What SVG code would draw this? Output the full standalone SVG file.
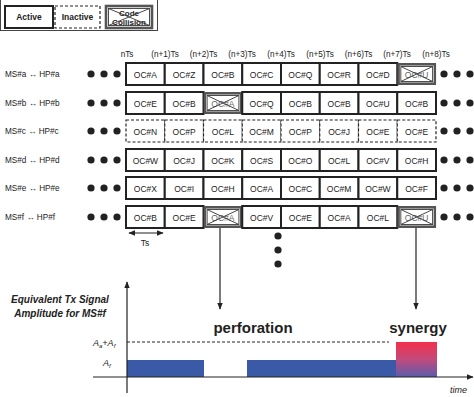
<svg xmlns="http://www.w3.org/2000/svg" width="474" height="397" viewBox="0 0 474 397">
<defs>
<style>
text{font-family:"Liberation Sans",Arial,sans-serif;fill:#222}
.cell{fill:#fff;stroke:#222;stroke-width:2}
.dash{fill:#fff;stroke:#222;stroke-width:1.2;stroke-dasharray:3,2}
.ct{font-size:8.5px;text-anchor:middle}
.cx{font-size:8.5px;text-anchor:middle;fill:#666}
.lbl{font-size:8.2px}
.tl{font-size:8.2px;text-anchor:middle}
.dot{fill:#222}
.colo{fill:#fff;stroke:#555;stroke-width:2.6}
.coli{fill:none;stroke:#222;stroke-width:0.8}
.xl{stroke:#333;stroke-width:0.9}
.ln{stroke:#222;stroke-width:1.2;fill:none}
.bar{fill:#3a5aa8}
</style>
<marker id="ah" viewBox="0 0 10 10" refX="9" refY="5" markerWidth="7" markerHeight="7" orient="auto-start-reverse" markerUnits="userSpaceOnUse">
<path d="M0,1 L10,5 L0,9 z" fill="#222"/>
</marker>
<linearGradient id="syn" x1="0" y1="0" x2="0" y2="1">
<stop offset="0" stop-color="#f3304b"/>
<stop offset="0.5" stop-color="#c24a7c"/>
<stop offset="1" stop-color="#5a5cae"/>
</linearGradient>
<symbol id="coll" viewBox="0 0 39 22" width="39" height="22">
<rect class="colo" x="1.3" y="1.3" width="36.4" height="19.4"/>
<rect class="coli" x="3.6" y="3.6" width="31.8" height="14.8"/>
</symbol>
</defs>

<g id="legend">
<rect x="0.5" y="-1" width="157" height="31.5" fill="#fff" stroke="#444" stroke-width="1"/>
<rect x="5" y="6" width="48" height="22" class="cell"/>
<text x="29" y="20" font-size="8.5" font-weight="bold" text-anchor="middle">Active</text>
<rect x="55" y="6" width="45" height="22" class="dash"/>
<text x="77.5" y="20" font-size="8.5" font-weight="bold" text-anchor="middle">Inactive</text>
<rect x="106" y="6" width="46" height="22" class="colo"/>
<rect x="108.5" y="8.5" width="41" height="17" class="coli"/>
<text x="129" y="15.5" font-size="8" font-weight="bold" text-anchor="middle">Code</text>
<text x="129" y="24.5" font-size="8" font-weight="bold" text-anchor="middle">Collision</text>
<line class="xl" x1="108.5" y1="8.5" x2="149.5" y2="25.5"/>
<line class="xl" x1="149.5" y1="8.5" x2="108.5" y2="25.5"/>
</g>

<g id="time-labels">
<text class="tl" x="127" y="57">nTs</text>
<text class="tl" x="165" y="57">(n+1)Ts</text>
<text class="tl" x="203.5" y="57">(n+2)Ts</text>
<text class="tl" x="242" y="57">(n+3)Ts</text>
<text class="tl" x="281" y="57">(n+4)Ts</text>
<text class="tl" x="320" y="57">(n+5)Ts</text>
<text class="tl" x="358.5" y="57">(n+6)Ts</text>
<text class="tl" x="397" y="57">(n+7)Ts</text>
<text class="tl" x="436" y="57">(n+8)Ts</text>
</g>

<g id="row-a">
<text class="lbl" x="5" y="77">MS#a ↔ HP#a</text>
<circle class="dot" cx="91" cy="74" r="3.6"/><circle class="dot" cx="104" cy="74" r="3.6"/><circle class="dot" cx="117" cy="74" r="3.6"/>
<rect class="cell" x="126" y="63" width="38.75" height="22"/><text class="ct" x="145.4" y="77.5">OC#A</text>
<rect class="cell" x="164.75" y="63" width="38.75" height="22"/><text class="ct" x="184.1" y="77.5">OC#Z</text>
<rect class="cell" x="203.5" y="63" width="38.75" height="22"/><text class="ct" x="222.9" y="77.5">OC#B</text>
<rect class="cell" x="242.25" y="63" width="38.75" height="22"/><text class="ct" x="261.6" y="77.5">OC#C</text>
<rect class="cell" x="281" y="63" width="38.75" height="22"/><text class="ct" x="300.4" y="77.5">OC#Q</text>
<rect class="cell" x="319.75" y="63" width="38.75" height="22"/><text class="ct" x="339.1" y="77.5">OC#R</text>
<rect class="cell" x="358.5" y="63" width="38.75" height="22"/><text class="ct" x="377.9" y="77.5">OC#D</text>
<g id="a8"><use href="#coll" x="397.25" y="63"/><text class="cx" x="416.6" y="77.5">OC#U</text><line class="xl" x1="401" y1="66.6" x2="432.5" y2="81.4"/><line class="xl" x1="432.5" y1="66.6" x2="401" y2="81.4"/></g>
<circle class="dot" cx="444" cy="74" r="3.6"/><circle class="dot" cx="457" cy="74" r="3.6"/><circle class="dot" cx="470" cy="74" r="3.6"/>
</g>

<g id="row-b">
<text class="lbl" x="5" y="106">MS#b ↔ HP#b</text>
<circle class="dot" cx="91" cy="103" r="3.6"/><circle class="dot" cx="104" cy="103" r="3.6"/><circle class="dot" cx="117" cy="103" r="3.6"/>
<rect class="cell" x="126" y="92" width="38.75" height="22"/><text class="ct" x="145.4" y="106.5">OC#E</text>
<rect class="cell" x="164.75" y="92" width="38.75" height="22"/><text class="ct" x="184.1" y="106.5">OC#B</text>
<g id="b3"><use href="#coll" x="203.5" y="92"/><text class="cx" x="222.9" y="106.5">OC#A</text><line class="xl" x1="207.2" y1="95.6" x2="238.7" y2="110.4"/><line class="xl" x1="238.7" y1="95.6" x2="207.2" y2="110.4"/></g>
<rect class="cell" x="242.25" y="92" width="38.75" height="22"/><text class="ct" x="261.6" y="106.5">OC#Q</text>
<rect class="cell" x="281" y="92" width="38.75" height="22"/><text class="ct" x="300.4" y="106.5">OC#B</text>
<rect class="cell" x="319.75" y="92" width="38.75" height="22"/><text class="ct" x="339.1" y="106.5">OC#B</text>
<rect class="cell" x="358.5" y="92" width="38.75" height="22"/><text class="ct" x="377.9" y="106.5">OC#U</text>
<rect class="cell" x="397.25" y="92" width="38.75" height="22"/><text class="ct" x="416.6" y="106.5">OC#B</text>
<circle class="dot" cx="444" cy="103" r="3.6"/><circle class="dot" cx="457" cy="103" r="3.6"/><circle class="dot" cx="470" cy="103" r="3.6"/>
</g>

<g id="row-c">
<text class="lbl" x="5" y="134">MS#c ↔ HP#c</text>
<circle class="dot" cx="91" cy="131" r="3.6"/><circle class="dot" cx="104" cy="131" r="3.6"/><circle class="dot" cx="117" cy="131" r="3.6"/>
<rect class="dash" x="126" y="120" width="38.75" height="22"/><text class="ct" x="145.4" y="134.5">OC#N</text>
<rect class="dash" x="164.75" y="120" width="38.75" height="22"/><text class="ct" x="184.1" y="134.5">OC#P</text>
<rect class="dash" x="203.5" y="120" width="38.75" height="22"/><text class="ct" x="222.9" y="134.5">OC#L</text>
<rect class="dash" x="242.25" y="120" width="38.75" height="22"/><text class="ct" x="261.6" y="134.5">OC#M</text>
<rect class="dash" x="281" y="120" width="38.75" height="22"/><text class="ct" x="300.4" y="134.5">OC#P</text>
<rect class="dash" x="319.75" y="120" width="38.75" height="22"/><text class="ct" x="339.1" y="134.5">OC#J</text>
<rect class="dash" x="358.5" y="120" width="38.75" height="22"/><text class="ct" x="377.9" y="134.5">OC#E</text>
<rect class="dash" x="397.25" y="120" width="38.75" height="22"/><text class="ct" x="416.6" y="134.5">OC#E</text>
<circle class="dot" cx="444" cy="131" r="3.6"/><circle class="dot" cx="457" cy="131" r="3.6"/><circle class="dot" cx="470" cy="131" r="3.6"/>
</g>

<g id="row-d">
<text class="lbl" x="5" y="163">MS#d ↔ HP#d</text>
<circle class="dot" cx="91" cy="160" r="3.6"/><circle class="dot" cx="104" cy="160" r="3.6"/><circle class="dot" cx="117" cy="160" r="3.6"/>
<rect class="cell" x="126" y="149" width="38.75" height="22"/><text class="ct" x="145.4" y="163.5">OC#W</text>
<rect class="cell" x="164.75" y="149" width="38.75" height="22"/><text class="ct" x="184.1" y="163.5">OC#J</text>
<rect class="cell" x="203.5" y="149" width="38.75" height="22"/><text class="ct" x="222.9" y="163.5">OC#K</text>
<rect class="cell" x="242.25" y="149" width="38.75" height="22"/><text class="ct" x="261.6" y="163.5">OC#S</text>
<rect class="cell" x="281" y="149" width="38.75" height="22"/><text class="ct" x="300.4" y="163.5">OC#O</text>
<rect class="cell" x="319.75" y="149" width="38.75" height="22"/><text class="ct" x="339.1" y="163.5">OC#L</text>
<rect class="cell" x="358.5" y="149" width="38.75" height="22"/><text class="ct" x="377.9" y="163.5">OC#V</text>
<rect class="cell" x="397.25" y="149" width="38.75" height="22"/><text class="ct" x="416.6" y="163.5">OC#H</text>
<circle class="dot" cx="444" cy="160" r="3.6"/><circle class="dot" cx="457" cy="160" r="3.6"/><circle class="dot" cx="470" cy="160" r="3.6"/>
</g>

<g id="row-e">
<text class="lbl" x="5" y="191">MS#e ↔ HP#e</text>
<circle class="dot" cx="91" cy="188" r="3.6"/><circle class="dot" cx="104" cy="188" r="3.6"/><circle class="dot" cx="117" cy="188" r="3.6"/>
<rect class="cell" x="126" y="177" width="38.75" height="22"/><text class="ct" x="145.4" y="191.5">OC#X</text>
<rect class="cell" x="164.75" y="177" width="38.75" height="22"/><text class="ct" x="184.1" y="191.5">OC#I</text>
<rect class="cell" x="203.5" y="177" width="38.75" height="22"/><text class="ct" x="222.9" y="191.5">OC#H</text>
<rect class="cell" x="242.25" y="177" width="38.75" height="22"/><text class="ct" x="261.6" y="191.5">OC#A</text>
<rect class="cell" x="281" y="177" width="38.75" height="22"/><text class="ct" x="300.4" y="191.5">OC#C</text>
<rect class="cell" x="319.75" y="177" width="38.75" height="22"/><text class="ct" x="339.1" y="191.5">OC#M</text>
<rect class="cell" x="358.5" y="177" width="38.75" height="22"/><text class="ct" x="377.9" y="191.5">OC#W</text>
<rect class="cell" x="397.25" y="177" width="38.75" height="22"/><text class="ct" x="416.6" y="191.5">OC#F</text>
<circle class="dot" cx="444" cy="188" r="3.6"/><circle class="dot" cx="457" cy="188" r="3.6"/><circle class="dot" cx="470" cy="188" r="3.6"/>
</g>

<g id="row-f">
<text class="lbl" x="5" y="220">MS#f ↔ HP#f</text>
<circle class="dot" cx="91" cy="217" r="3.6"/><circle class="dot" cx="104" cy="217" r="3.6"/><circle class="dot" cx="117" cy="217" r="3.6"/>
<rect class="cell" x="126" y="206" width="38.75" height="22"/><text class="ct" x="145.4" y="220.5">OC#B</text>
<rect class="cell" x="164.75" y="206" width="38.75" height="22"/><text class="ct" x="184.1" y="220.5">OC#E</text>
<g id="f3"><use href="#coll" x="203.5" y="206"/><text class="cx" x="222.9" y="220.5">OC#A</text><line class="xl" x1="207.2" y1="209.6" x2="238.7" y2="224.4"/><line class="xl" x1="238.7" y1="209.6" x2="207.2" y2="224.4"/></g>
<rect class="cell" x="242.25" y="206" width="38.75" height="22"/><text class="ct" x="261.6" y="220.5">OC#V</text>
<rect class="cell" x="281" y="206" width="38.75" height="22"/><text class="ct" x="300.4" y="220.5">OC#E</text>
<rect class="cell" x="319.75" y="206" width="38.75" height="22"/><text class="ct" x="339.1" y="220.5">OC#A</text>
<rect class="cell" x="358.5" y="206" width="38.75" height="22"/><text class="ct" x="377.9" y="220.5">OC#L</text>
<g id="f8"><use href="#coll" x="397.25" y="206"/><text class="cx" x="416.6" y="220.5">OC#U</text><line class="xl" x1="401" y1="209.6" x2="432.5" y2="224.4"/><line class="xl" x1="432.5" y1="209.6" x2="401" y2="224.4"/></g>
<circle class="dot" cx="444" cy="217" r="3.6"/><circle class="dot" cx="457" cy="217" r="3.6"/><circle class="dot" cx="470" cy="217" r="3.6"/>
</g>

<g id="vdots">
<circle class="dot" cx="278" cy="236" r="3.6"/><circle class="dot" cx="278" cy="250" r="3.6"/><circle class="dot" cx="278" cy="264" r="3.6"/>
</g>

<g id="ts-marker">
<text x="145" y="246" font-size="8.5" text-anchor="middle">Ts</text>
</g>

<g id="chart">
<text x="60" y="303" font-size="10" font-weight="bold" font-style="italic" text-anchor="middle">Equivalent Tx Signal</text>
<text x="60" y="317" font-size="10" font-weight="bold" font-style="italic" text-anchor="middle">Amplitude  for MS#f</text>
<text x="253" y="333" font-size="15" font-weight="bold" text-anchor="middle">perforation</text>
<text x="418" y="333" font-size="15" font-weight="bold" text-anchor="middle">synergy</text>
<text x="93" y="346" font-size="9" font-style="italic">A<tspan font-size="6" dy="2">a</tspan><tspan dy="-2">+A</tspan><tspan font-size="6" dy="2">f</tspan></text>
<text x="103" y="366" font-size="9" font-style="italic">A<tspan font-size="6" dy="2">f</tspan></text>
<rect class="bar" x="127" y="360" width="77" height="17"/>
<rect class="bar" x="247" y="360" width="149" height="17"/>
<rect x="396" y="342" width="41" height="35" fill="url(#syn)"/>
<line x1="127" y1="342" x2="389" y2="342" stroke="#222" stroke-width="1" stroke-dasharray="3,2"/>
<text x="450" y="393" font-size="9" font-style="italic">time</text>
</g>

<g id="connectors">
<line class="ln" x1="129" y1="233" x2="163" y2="233" marker-start="url(#ah)" marker-end="url(#ah)"/>
<line class="ln" x1="220" y1="228" x2="220" y2="309" marker-end="url(#ah)"/>
<line class="ln" x1="416" y1="228" x2="416" y2="309" marker-end="url(#ah)"/>
<line class="ln" x1="127" y1="393" x2="127" y2="282" marker-end="url(#ah)"/>
<line class="ln" x1="93" y1="377" x2="473" y2="377" marker-end="url(#ah)"/>
</g>
</svg>
